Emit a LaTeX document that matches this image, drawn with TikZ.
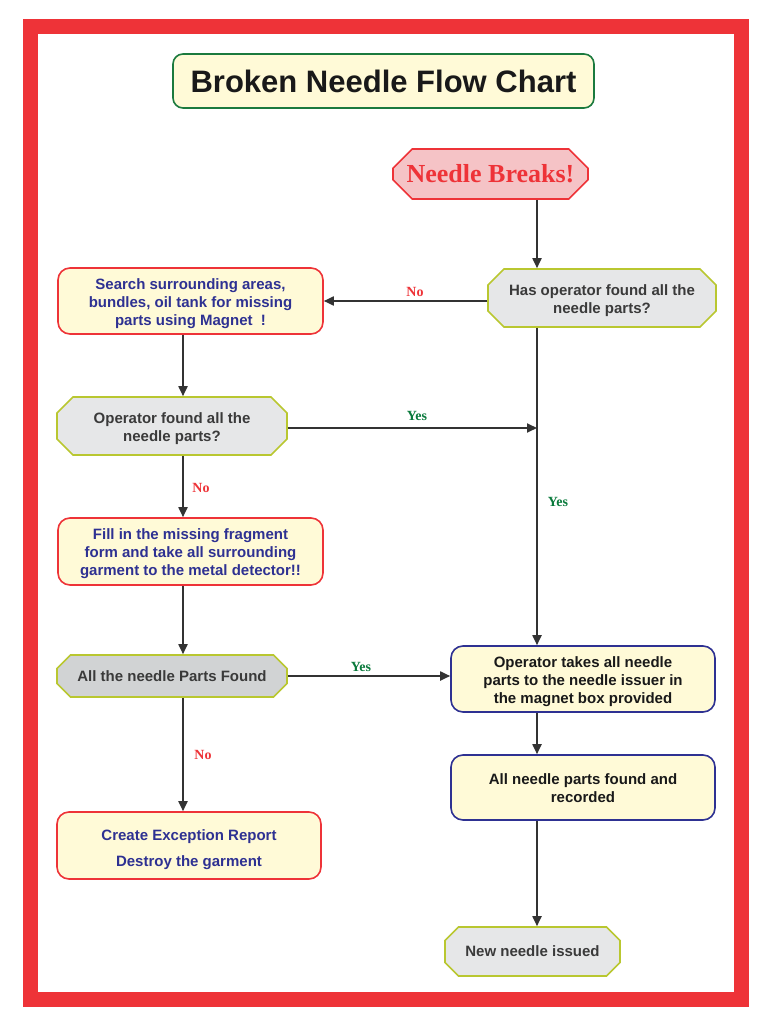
\documentclass[tikz,border=0pt]{standalone}
\usepackage{fontspec}
\setmainfont{Liberation Sans}
\newfontfamily\serifb{Liberation Serif}
\usetikzlibrary{shapes.misc,arrows.meta}
\definecolor{framered}{HTML}{EE3338}
\definecolor{cream}{HTML}{FFFAD7}
\definecolor{titleg}{HTML}{1B7A3E}
\definecolor{pinkf}{HTML}{F5C3C6}
\definecolor{grayf}{HTML}{E6E7E8}
\definecolor{grayd}{HTML}{D1D3D4}
\definecolor{olive}{HTML}{B9C730}
\definecolor{navy}{HTML}{2E3192}
\definecolor{txtg}{HTML}{3A3A3A}
\definecolor{yesg}{HTML}{0A7A3C}
\definecolor{lineg}{HTML}{333333}
\newcommand\lowtxt[1]{\raisebox{-2.5pt}[\height][\depth]{\begin{tabular}{@{}c@{}}#1\end{tabular}}}
\begin{document}
\begin{tikzpicture}[x=1pt,y=-1pt,
  every node/.style={inner sep=0pt, align=center},
  boxfont/.style={font=\fontsize{15}{18}\selectfont\bfseries},
  rbox/.style={draw, line width=1.6pt, rounded corners=12pt, fill=cream, boxfont},
  redbox/.style={rbox, draw=framered, text=navy},
  bluebox/.style={rbox, draw=navy, text=black!90},
  cbox/.style={draw=olive, line width=1.6pt, shape=chamfered rectangle,
     chamfered rectangle xsep=8pt, chamfered rectangle ysep=8pt, fill=grayf, text=txtg, boxfont},
  conn/.style={draw=lineg, line width=1.8pt, -{Triangle[length=10pt,width=9pt]}},
  nolab/.style={text=framered, font=\serifb\fontsize{14}{16}\selectfont\bfseries},
  yeslab/.style={text=yesg, font=\serifb\fontsize{14}{16}\selectfont\bfseries}
]
\fill[white] (0,0) rectangle (768,1024);
\useasboundingbox (0,0) rectangle (768,1024);
\draw[framered, line width=15pt] (30.5,26.5) rectangle (741.5,999.5);

\node[draw=titleg, line width=1.6pt, fill=cream, rounded corners=10pt,
      minimum width=421pt, minimum height=54pt,
      font=\fontsize{31}{35}\selectfont\bfseries, text=black!90] (title) at (383.5,81) {Broken Needle Flow Chart};

\node[shape=chamfered rectangle, chamfered rectangle xsep=10pt, chamfered rectangle ysep=10pt,
      draw=framered, line width=1.6pt, fill=pinkf,
      minimum width=195pt, minimum height=50pt, text=framered,
      font=\serifb\fontsize{26}{29}\selectfont\bfseries] (breaks) at (490.5,174) {Needle Breaks!};

\node[cbox, minimum width=228pt, minimum height=58pt] (has) at (602,298) {\lowtxt{Has operator found all the\\needle parts?}};
\node[redbox, minimum width=265pt, minimum height=66pt] (search) at (190.5,301) {\lowtxt{Search surrounding areas,\\bundles, oil tank for missing\\parts using Magnet\ \ !}};
\node[cbox, minimum width=230pt, minimum height=58pt] (opf) at (172,426) {\lowtxt{Operator found all the\\needle parts?}};
\node[redbox, minimum width=265pt, minimum height=67pt] (fill) at (190.5,551.5) {\lowtxt{Fill in the missing fragment\\form and take all surrounding\\garment to the metal detector!!}};
\node[cbox, fill=grayd, minimum width=230pt, minimum height=42pt] (allf) at (172,676) {All the needle Parts Found};
\node[bluebox, minimum width=264pt, minimum height=66pt] (takes) at (583,679) {\lowtxt{Operator takes all needle\\parts to the needle issuer in\\the magnet box provided}};
\node[bluebox, minimum width=264pt, minimum height=65pt] (rec) at (583,787.5) {\lowtxt{All needle parts found and\\recorded}};
\node[redbox, minimum width=264pt, minimum height=67pt, font=\fontsize{15}{26}\selectfont\bfseries] (exc) at (189,845.5) {\lowtxt{Create Exception Report\\Destroy the garment}};
\node[cbox, minimum width=175pt, minimum height=49pt] (newn) at (532.5,951.5) {New needle issued};

\coordinate (rcol) at (537,0);
\coordinate (lcol) at (183,0);
\coordinate (join) at (537,428);

\draw[conn] (breaks.south -| rcol) -- (has.north -| rcol);
\draw[conn] (has.west |- search.east) -- (search.east);
\draw[conn] (has.south -| rcol) -- (takes.north -| rcol);
\draw[conn] (opf.east |- join) -- (join);
\draw[conn] (search.south -| lcol) -- (opf.north -| lcol);
\draw[conn] (opf.south -| lcol) -- (fill.north -| lcol);
\draw[conn] (fill.south -| lcol) -- (allf.north -| lcol);
\draw[conn] (allf.east) -- (takes.west |- allf.east);
\draw[conn] (allf.south -| lcol) -- (exc.north -| lcol);
\draw[conn] (takes.south -| rcol) -- (rec.north -| rcol);
\draw[conn] (rec.south -| rcol) -- (newn.north -| rcol);

\node[nolab] (l1) at (415,292) {No};
\node[yeslab] (l2) at (417,416) {Yes};
\node[yeslab] (l3) at (558,502) {Yes};
\node[nolab] (l4) at (201,488) {No};
\node[yeslab] (l5) at (361,667) {Yes};
\node[nolab] (l6) at (203,755) {No};
\end{tikzpicture}
\end{document}
